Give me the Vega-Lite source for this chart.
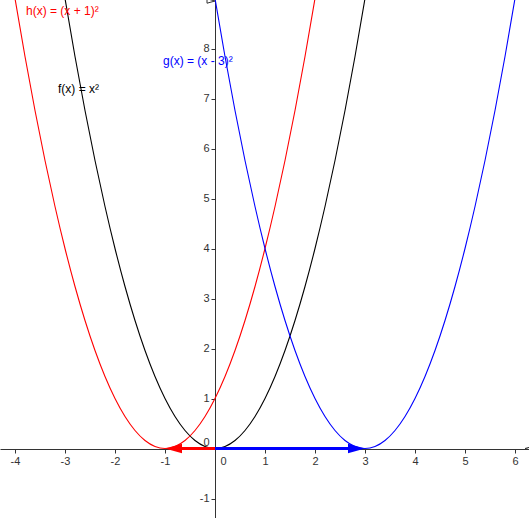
{
  "$schema": "https://vega.github.io/schema/vega-lite/v6.json",
  "width": 529,
  "height": 518,
  "padding": 0,
  "autosize": {"type": "none"},
  "background": "white",
  "config": {
    "view": {"stroke": null},
    "axis": {
      "grid": false,
      "title": null,
      "domainColor": "#333333",
      "tickColor": "#333333",
      "labelColor": "#333333",
      "labelFont": "Liberation Sans",
      "labelFontSize": 11,
      "tickSize": 4,
      "labelPadding": 2,
      "labelFlush": false,
      "labelOverlap": false
    }
  },
  "datasets": {
    "curves": [
      {"fn": "f", "x": -3.4, "y": 11.56}, {"fn": "f", "x": -3.2, "y": 10.24}, {"fn": "f", "x": -3.0, "y": 9.0}, {"fn": "f", "x": -2.8, "y": 7.84}, {"fn": "f", "x": -2.6, "y": 6.76}, {"fn": "f", "x": -2.4, "y": 5.76}, {"fn": "f", "x": -2.2, "y": 4.84}, {"fn": "f", "x": -2.0, "y": 4.0}, {"fn": "f", "x": -1.8, "y": 3.24}, {"fn": "f", "x": -1.6, "y": 2.56}, {"fn": "f", "x": -1.4, "y": 1.96}, {"fn": "f", "x": -1.2, "y": 1.44}, {"fn": "f", "x": -1.0, "y": 1.0}, {"fn": "f", "x": -0.8, "y": 0.64}, {"fn": "f", "x": -0.6, "y": 0.36}, {"fn": "f", "x": -0.4, "y": 0.16}, {"fn": "f", "x": -0.2, "y": 0.04}, {"fn": "f", "x": 0.0, "y": 0.0}, {"fn": "f", "x": 0.2, "y": 0.04}, {"fn": "f", "x": 0.4, "y": 0.16}, {"fn": "f", "x": 0.6, "y": 0.36}, {"fn": "f", "x": 0.8, "y": 0.64}, {"fn": "f", "x": 1.0, "y": 1.0}, {"fn": "f", "x": 1.2, "y": 1.44}, {"fn": "f", "x": 1.4, "y": 1.96}, {"fn": "f", "x": 1.6, "y": 2.56}, {"fn": "f", "x": 1.8, "y": 3.24}, {"fn": "f", "x": 2.0, "y": 4.0}, {"fn": "f", "x": 2.2, "y": 4.84}, {"fn": "f", "x": 2.4, "y": 5.76}, {"fn": "f", "x": 2.6, "y": 6.76}, {"fn": "f", "x": 2.8, "y": 7.84}, {"fn": "f", "x": 3.0, "y": 9.0}, {"fn": "f", "x": 3.2, "y": 10.24}, {"fn": "f", "x": 3.4, "y": 11.56},
      {"fn": "h", "x": -4.4, "y": 11.56}, {"fn": "h", "x": -4.2, "y": 10.24}, {"fn": "h", "x": -4.0, "y": 9.0}, {"fn": "h", "x": -3.8, "y": 7.84}, {"fn": "h", "x": -3.6, "y": 6.76}, {"fn": "h", "x": -3.4, "y": 5.76}, {"fn": "h", "x": -3.2, "y": 4.84}, {"fn": "h", "x": -3.0, "y": 4.0}, {"fn": "h", "x": -2.8, "y": 3.24}, {"fn": "h", "x": -2.6, "y": 2.56}, {"fn": "h", "x": -2.4, "y": 1.96}, {"fn": "h", "x": -2.2, "y": 1.44}, {"fn": "h", "x": -2.0, "y": 1.0}, {"fn": "h", "x": -1.8, "y": 0.64}, {"fn": "h", "x": -1.6, "y": 0.36}, {"fn": "h", "x": -1.4, "y": 0.16}, {"fn": "h", "x": -1.2, "y": 0.04}, {"fn": "h", "x": -1.0, "y": 0.0}, {"fn": "h", "x": -0.8, "y": 0.04}, {"fn": "h", "x": -0.6, "y": 0.16}, {"fn": "h", "x": -0.4, "y": 0.36}, {"fn": "h", "x": -0.2, "y": 0.64}, {"fn": "h", "x": 0.0, "y": 1.0}, {"fn": "h", "x": 0.2, "y": 1.44}, {"fn": "h", "x": 0.4, "y": 1.96}, {"fn": "h", "x": 0.6, "y": 2.56}, {"fn": "h", "x": 0.8, "y": 3.24}, {"fn": "h", "x": 1.0, "y": 4.0}, {"fn": "h", "x": 1.2, "y": 4.84}, {"fn": "h", "x": 1.4, "y": 5.76}, {"fn": "h", "x": 1.6, "y": 6.76}, {"fn": "h", "x": 1.8, "y": 7.84}, {"fn": "h", "x": 2.0, "y": 9.0}, {"fn": "h", "x": 2.2, "y": 10.24}, {"fn": "h", "x": 2.4, "y": 11.56},
      {"fn": "g", "x": -0.4, "y": 11.56}, {"fn": "g", "x": -0.2, "y": 10.24}, {"fn": "g", "x": 0.0, "y": 9.0}, {"fn": "g", "x": 0.2, "y": 7.84}, {"fn": "g", "x": 0.4, "y": 6.76}, {"fn": "g", "x": 0.6, "y": 5.76}, {"fn": "g", "x": 0.8, "y": 4.84}, {"fn": "g", "x": 1.0, "y": 4.0}, {"fn": "g", "x": 1.2, "y": 3.24}, {"fn": "g", "x": 1.4, "y": 2.56}, {"fn": "g", "x": 1.6, "y": 1.96}, {"fn": "g", "x": 1.8, "y": 1.44}, {"fn": "g", "x": 2.0, "y": 1.0}, {"fn": "g", "x": 2.2, "y": 0.64}, {"fn": "g", "x": 2.4, "y": 0.36}, {"fn": "g", "x": 2.6, "y": 0.16}, {"fn": "g", "x": 2.8, "y": 0.04}, {"fn": "g", "x": 3.0, "y": 0.0}, {"fn": "g", "x": 3.2, "y": 0.04}, {"fn": "g", "x": 3.4, "y": 0.16}, {"fn": "g", "x": 3.6, "y": 0.36}, {"fn": "g", "x": 3.8, "y": 0.64}, {"fn": "g", "x": 4.0, "y": 1.0}, {"fn": "g", "x": 4.2, "y": 1.44}, {"fn": "g", "x": 4.4, "y": 1.96}, {"fn": "g", "x": 4.6, "y": 2.56}, {"fn": "g", "x": 4.8, "y": 3.24}, {"fn": "g", "x": 5.0, "y": 4.0}, {"fn": "g", "x": 5.2, "y": 4.84}, {"fn": "g", "x": 5.4, "y": 5.76}, {"fn": "g", "x": 5.6, "y": 6.76}, {"fn": "g", "x": 5.8, "y": 7.84}, {"fn": "g", "x": 6.0, "y": 9.0}, {"fn": "g", "x": 6.2, "y": 10.24}, {"fn": "g", "x": 6.4, "y": 11.56}
    ],
    "vectors": [
      {"fn": "h", "x": 0, "x2": -0.8, "y": 0},
      {"fn": "g", "x": 0, "x2": 2.8, "y": 0}
    ],
    "heads": [
      {"fn": "h", "dir": "left", "x": -1, "y": 0},
      {"fn": "g", "dir": "right", "x": 3, "y": 0}
    ],
    "axisEnds": [
      {"ax": "x", "x": 6.2, "y": 0},
      {"ax": "y", "x": 0, "y": 8.95}
    ],
    "labels": [
      {"fn": "h", "label": "h(x) = (x + 1)²", "x": -3.78, "y": 8.76},
      {"fn": "f", "label": "f(x) = x²", "x": -3.14, "y": 7.2},
      {"fn": "g", "label": "g(x) = (x - 3)²", "x": -1.04, "y": 7.76}
    ]
  },
  "layer": [
    {
      "data": {"name": "curves"},
      "mark": {"type": "line", "clip": true, "interpolate": "monotone", "strokeWidth": 1.1},
      "encoding": {
        "x": {
          "field": "x", "type": "quantitative",
          "scale": {"domain": [-4.3, 6.28], "nice": false, "zero": false},
          "axis": {
            "orient": "bottom", "offset": -69,
            "values": [-4, -3, -2, -1, 0, 1, 2, 3, 4, 5, 6],
            "labelExpr": "'' + datum.value",
            "labelOffset": {"condition": {"test": "datum.value == 0", "value": 8}, "value": 0}
          }
        },
        "y": {
          "field": "y", "type": "quantitative",
          "scale": {"domain": [-1.39, 8.97], "nice": false, "zero": false},
          "axis": {
            "orient": "left", "offset": -215,
            "values": [-1, 0, 1, 2, 3, 4, 5, 6, 7, 8],
            "labelExpr": "'' + datum.value",
            "labelOffset": {"condition": {"test": "datum.value == 0", "value": -6}, "value": 0}
          }
        },
        "color": {
          "field": "fn", "type": "nominal",
          "scale": {"domain": ["f", "g", "h"], "range": ["#000000", "#0000ff", "#ff0000"]},
          "legend": null
        },
        "order": {"field": "x", "type": "quantitative"}
      }
    },
    {
      "data": {"name": "vectors"},
      "mark": {"type": "rule", "strokeWidth": 3},
      "encoding": {
        "x": {"field": "x", "type": "quantitative"},
        "x2": {"field": "x2"},
        "y": {"field": "y", "type": "quantitative"},
        "color": {"field": "fn", "type": "nominal", "legend": null}
      }
    },
    {
      "data": {"name": "heads"},
      "mark": {"type": "point", "filled": true, "opacity": 1, "size": 289, "strokeWidth": 0},
      "encoding": {
        "x": {"field": "x", "type": "quantitative"},
        "y": {"field": "y", "type": "quantitative"},
        "color": {"field": "fn", "type": "nominal", "legend": null},
        "shape": {
          "field": "dir", "type": "nominal",
          "scale": {"domain": ["left", "right"], "range": ["M0,0L2,-0.55L2,0.55Z", "M0,0L-2,-0.55L-2,0.55Z"]},
          "legend": null
        }
      }
    },
    {
      "data": {"name": "axisEnds"},
      "mark": {"type": "point", "filled": false, "opacity": 1, "size": 64, "strokeWidth": 1, "color": "#333333"},
      "encoding": {
        "x": {"field": "x", "type": "quantitative"},
        "y": {"field": "y", "type": "quantitative"},
        "shape": {
          "field": "ax", "type": "nominal",
          "scale": {"domain": ["x", "y"], "range": ["M-1,-1L0,0L-1,1", "M-1,1L0,0L1,1"]},
          "legend": null
        }
      }
    },
    {
      "data": {"name": "labels"},
      "mark": {"type": "text", "align": "left", "baseline": "middle", "font": "Liberation Sans", "fontSize": 12},
      "encoding": {
        "x": {"field": "x", "type": "quantitative"},
        "y": {"field": "y", "type": "quantitative"},
        "text": {"field": "label"},
        "color": {"field": "fn", "type": "nominal", "legend": null}
      }
    }
  ]
}
